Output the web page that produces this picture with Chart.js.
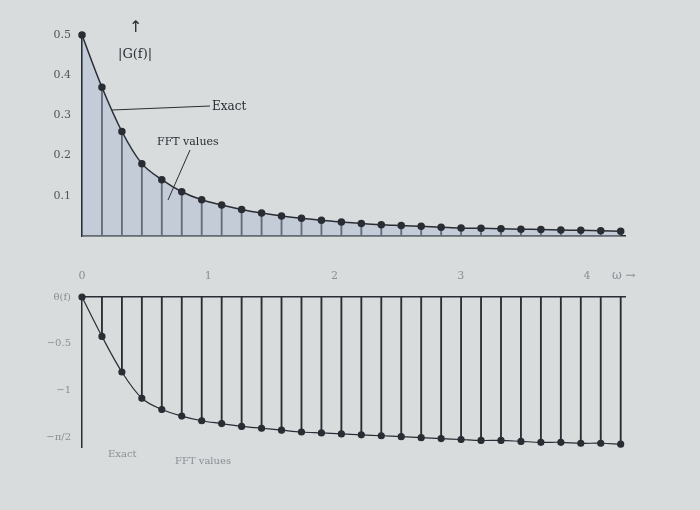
<!DOCTYPE html>
<html><head><meta charset="utf-8">
<script src="https://cdn.jsdelivr.net/npm/chart.js@4"></script>
<style>
body{margin:0;background:#d9dcdc;width:700px;height:510px;overflow:hidden;position:relative}
canvas{position:absolute;left:0}
</style></head><body>
<canvas id="magChart" style="top:0" width="700" height="280"></canvas>
<canvas id="phaseChart" style="top:280px" width="700" height="230"></canvas>
<script>
const freq = [0,0.158,0.316,0.474,0.632,0.79,0.948,1.106,1.264,1.422,1.58,1.738,1.896,2.054,2.212,2.37,2.528,2.686,2.844,3.002,3.16,3.318,3.476,3.634,3.792,3.95,4.108,4.266];
const magnitude = [0.5,0.37,0.26,0.18,0.14,0.11,0.09,0.077,0.066,0.057,0.05,0.044,0.039,0.035,0.031,0.028,0.026,0.024,0.022,0.02,0.019,0.018,0.017,0.016,0.015,0.014,0.013,0.012];
const phase = [0,-0.42,-0.8,-1.08,-1.2,-1.27,-1.32,-1.35,-1.38,-1.4,-1.42,-1.44,-1.45,-1.46,-1.47,-1.48,-1.49,-1.5,-1.51,-1.52,-1.53,-1.53,-1.54,-1.55,-1.55,-1.56,-1.56,-1.57];
const magTicks = [0.1,0.2,0.3,0.4,0.5];
const phaseTicks = [{v:0,t:'θ(f)'},{v:-0.5,t:'−0.5'},{v:-1,t:'−1'},{v:-1.5,t:'−π/2'}];
const xTicks = [0,1,2,3,4];

const ink = '#2a2d33', faint = '#8a8f95';
const pts = (ys) => freq.map((f,i)=>({x:f,y:ys[i]}));

const textPlugin = (items) => ({
  id:'notes',
  afterDraw(chart){
    const c = chart.ctx;
    c.save();
    items.forEach(it=>{
      c.font = it.font || '13px "DejaVu Serif", serif';
      c.fillStyle = it.color || ink;
      if (it.line){ c.strokeStyle = ink; c.lineWidth=1; c.beginPath(); c.moveTo(...it.line[0]); c.lineTo(...it.line[1]); c.stroke(); }
      c.fillText(it.text, it.x, it.y);
    });
    c.restore();
  }
});

const stemData = (ys) => freq.map((f,i)=>({x:f,y:[0,ys[i]]}));

new Chart(document.getElementById('magChart'), {
  data:{datasets:[
    {type:'line',data:pts(magnitude),borderColor:ink,borderWidth:1.5,pointRadius:3,pointBackgroundColor:ink,
     fill:'origin',backgroundColor:'rgba(170,185,210,0.45)',tension:0.35,clip:false},
    {type:'bar',data:stemData(magnitude),backgroundColor:ink,barThickness:1.2}
  ]},
  options:{responsive:false,animation:false,
    layout:{padding:{top:35,right:75,left:0}},
    plugins:{legend:{display:false},tooltip:{enabled:false}},
    scales:{
      x:{type:'linear',offset:false,min:0,max:4.3,afterBuildTicks:s=>{s.ticks=xTicks.map(v=>({value:v}));},
         afterFit:s=>{s.height=44;},
         grid:{display:false},border:{color:ink,width:1.5},
         ticks:{color:faint,padding:26,font:{size:11,family:'DejaVu Serif'}}},
      y:{min:0,max:0.5,afterBuildTicks:s=>{s.ticks=magTicks.map(v=>({value:v}));},
         afterFit:s=>{s.width=82;},
         grid:{display:false},border:{color:ink,width:1.5},
         ticks:{color:'#555',font:{size:11,family:'DejaVu Serif'},callback:v=>v.toFixed(1)}}
    }},
  plugins:[textPlugin([
    {text:'|G(f)|',x:118,y:58},
    {text:'↑',x:129,y:32,font:'16px DejaVu Sans'},
    {text:'Exact',x:212,y:110,font:'12px "DejaVu Serif", serif',line:[[112,110],[210,106]]},
    {text:'FFT values',x:157,y:145,font:'11px "DejaVu Serif", serif',line:[[190,150],[168,200]]},
    {text:'ω →',x:612,y:279,font:'12px "DejaVu Serif", serif',color:faint}
  ])]
});

new Chart(document.getElementById('phaseChart'), {
  data:{datasets:[
    {type:'line',data:pts(phase),borderColor:ink,borderWidth:1.2,pointRadius:3,pointBackgroundColor:ink,tension:0.35,clip:false},
    {type:'bar',data:stemData(phase),backgroundColor:ink,barThickness:1.2}
  ]},
  options:{responsive:false,animation:false,
    layout:{padding:{top:17,right:75,bottom:63,left:0}},
    plugins:{legend:{display:false},tooltip:{enabled:false}},
    scales:{
      x:{type:'linear',offset:false,min:0,max:4.3,position:'top',display:true,grid:{display:false},
         border:{color:ink,width:1.5},ticks:{display:false},afterFit:s=>{s.height=0;}},
      y:{min:-1.6,max:0,afterBuildTicks:s=>{s.ticks=phaseTicks.map(p=>({value:p.v}));},
         afterFit:s=>{s.width=82;},
         grid:{display:false},border:{color:ink,width:1.5},
         ticks:{color:faint,font:{size:10,family:'DejaVu Serif'},
           callback:v=>{const p=phaseTicks.find(q=>q.v===v);return p?p.t:'';}}}
    }},
  plugins:[textPlugin([
    {text:'Exact',x:108,y:177,font:'10px "DejaVu Serif", serif',color:faint},
    {text:'FFT values',x:175,y:184,font:'10px "DejaVu Serif", serif',color:faint}
  ])]
});
</script>
</body></html>
